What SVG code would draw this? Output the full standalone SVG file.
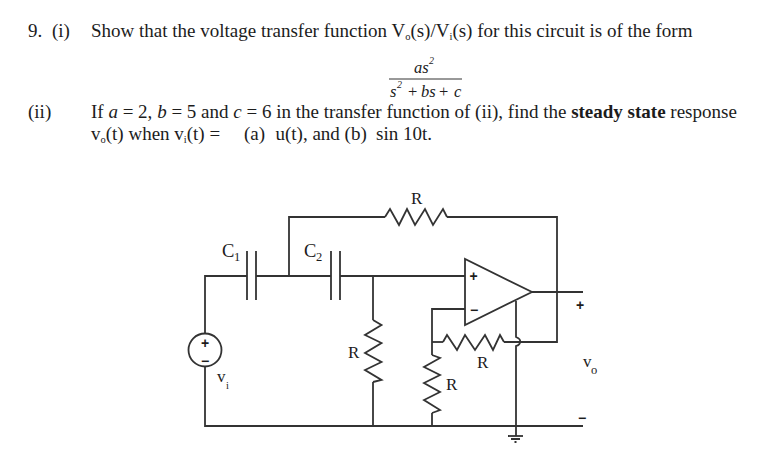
<svg xmlns="http://www.w3.org/2000/svg" width="763" height="465" viewBox="0 0 763 465">
<style>
text{font-family:"Liberation Serif","Times New Roman",serif;fill:#1c1c1c}
.t{font-size:19px}
.f{font-size:16.500px;font-style:italic}
.g{font-size:16.500px}
.p{font-size:10px;font-style:italic}
.s{font-size:10.500px}
.l{font-size:17px}
.c{font-size:18.500px}
.n{font-size:12.500px}
.b{font-family:"Liberation Sans",Arial,sans-serif;font-size:14px;font-weight:bold}
.w{fill:none;stroke:#333;stroke-width:1.8;stroke-linejoin:miter}
</style>
<rect width="763" height="465" fill="#fff"/>
<g id="question">
<text class="t" x="28" y="37">9.</text>
<text class="t" x="52" y="37">(i)</text>
<text class="t" x="91" y="37">Show that the voltage transfer function V<tspan class="s" dy="3">o</tspan><tspan dy="-3">(s)/V</tspan><tspan class="s" dy="3">i</tspan><tspan dy="-3">(s) for this circuit is of the form</tspan></text>
<text class="f" x="414" y="73">as</text>
<text class="p" x="429" y="64">2</text>
<line x1="389" y1="79" x2="462" y2="79" stroke="#333" stroke-width="1"/>
<text class="f" x="390" y="97">s</text>
<text class="p" x="397" y="88">2</text>
<text class="g" x="408" y="97">+</text>
<text class="f" x="421" y="97">bs</text>
<text class="g" x="439" y="97">+</text>
<text class="f" x="454" y="97">c</text>
<text class="t" x="28" y="118">(ii)</text>
<text class="t" x="91" y="118">If <tspan font-style="italic">a</tspan> = 2, <tspan font-style="italic">b</tspan> = 5 and <tspan font-style="italic">c</tspan> = 6 in the transfer function of (ii), find the <tspan font-weight="bold">steady state</tspan> response</text>
<text class="t" x="91" y="140">v<tspan class="s" dy="3">o</tspan><tspan dy="-3">(t) when v</tspan><tspan class="s" dy="3">i</tspan><tspan dy="-3">(t) =</tspan></text>
<text class="t" x="244" y="140">(a)</text>
<text class="t" x="275.500" y="140">u(t), and (b)</text>
<text class="t" x="376" y="140">sin 10t.</text>
</g>
<g id="connectors">
<path class="w" d="M289 276V217H385"/>
<path class="w" d="M447 217H557V342H504"/>
<path class="w" d="M205 333.500V276H247"/>
<path class="w" d="M256 276H331"/>
<path class="w" d="M340 276H465"/>
<path class="w" d="M205 366.500V426H583"/>
<path class="w" d="M373 276V320"/>
<path class="w" d="M373 382V426"/>
<path class="w" d="M532 292H583"/>
<path class="w" d="M465 309H432V355"/>
<path class="w" d="M432 342H443"/>
<path class="w" d="M516 301V337Q521 339 520 342Q520 345 516 346V436"/>
<path class="w" d="M432 413V426"/>
</g>
<g id="source-vi">
<circle class="w" cx="205" cy="350" r="16.500"/>
<text class="b" x="205" y="348" text-anchor="middle">+</text>
<text class="b" x="205" y="366" text-anchor="middle">−</text>
<text class="l" x="217" y="382">v</text>
<text class="s" x="226" y="389">i</text>
</g>
<g id="capacitor-c1">
<path class="w" d="M247 251V300M256 251V300"/>
<text class="c" x="222" y="257">C</text>
<text class="n" x="234" y="261">1</text>
</g>
<g id="capacitor-c2">
<path class="w" d="M331 251V300M340 251V300"/>
<text class="c" x="304" y="257">C</text>
<text class="n" x="316" y="261">2</text>
</g>
<g id="resistor-top">
<path class="w" d="M385 217L390 209L399 225L407 209L415 225L425 209L433 225L443 209L447 217"/>
<text class="l" x="411" y="204">R</text>
</g>
<g id="resistor-shunt">
<path class="w" d="M373 320L381.500 325L365 335L381.500 343L365 353L381.500 362L365 370L381.500 380L373 382"/>
<text class="l" x="348" y="358">R</text>
</g>
<g id="resistor-feedback">
<path class="w" d="M443 342L447 335L457 350L465 335L475 350L485 335L493 350L500 335L504 342"/>
<text class="l" x="477" y="368">R</text>
</g>
<g id="resistor-ground">
<path class="w" d="M432 355L440 358L424 367L440 375L424 383L440 392L424 400L440 410L432 413"/>
<text class="l" x="446" y="390">R</text>
</g>
<g id="opamp">
<path class="w" d="M465 259V325L532 292Z" fill="#fff"/>
<text class="b" x="473.500" y="281" text-anchor="middle">+</text>
<text class="b" x="474" y="315" text-anchor="middle">−</text>
</g>
<g id="ground">
<path class="w" d="M508 436H523"/>
<path class="w" stroke-width="1" d="M511 439H520M514.500 442H516.500"/>
</g>
<g id="output-vo">
<text class="b" x="580" y="310" text-anchor="middle">+</text>
<text class="l" x="583" y="367">v</text>
<text class="n" x="591" y="374">o</text>
<text class="b" x="582" y="423" text-anchor="middle">−</text>
</g>
</svg>
